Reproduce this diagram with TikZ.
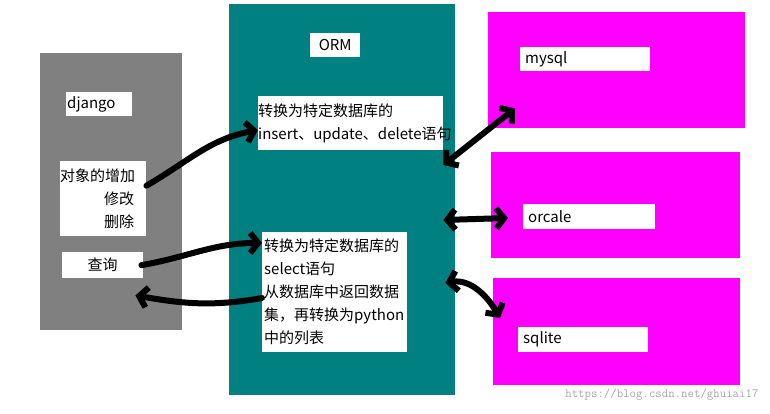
\documentclass[tikz,border=0pt]{standalone}
\usepackage{fontspec}
\setmainfont{Noto Sans CJK SC}
\usetikzlibrary{arrows.meta, positioning}
\definecolor{djgray}{HTML}{808080}
\definecolor{ormteal}{HTML}{008080}
\definecolor{dbpink}{HTML}{FF00FF}
\tikzset{
    panel/.style={rectangle, draw=none, anchor=north west, inner sep=0pt},
    label/.style={rectangle, fill=white, anchor=north west, inner sep=0pt, font=\fontsize{15}{23}\selectfont},
    arrow/.style={line width=6pt, -{Straight Barb[length=8pt, width=20pt]}, line cap=round},
    twoway/.style={line width=6pt, {Straight Barb[length=8pt, width=20pt]}-{Straight Barb[length=8pt, width=20pt]}, line cap=round},
}

\begin{document}
\begin{tikzpicture}[x=1pt, y=-1pt]
    \useasboundingbox (0,0) rectangle (770,414);

    % panels
    \node [panel, fill=djgray, minimum width=142pt, minimum height=277pt] (dj) at (40,53) {};
    \node [panel, fill=ormteal, minimum width=226pt, minimum height=391pt] (orm) at (229,4) {};
    \node [panel, fill=dbpink, minimum width=257pt, minimum height=116pt] (db1) at (488,12) {};
    \node [panel, fill=dbpink, minimum width=249pt, minimum height=106pt] (db2) at (491,152) {};
    \node [panel, fill=dbpink, minimum width=247pt, minimum height=107pt] (db3) at (493,278) {};

    % labels
    \node [label, minimum width=66pt, minimum height=24pt, text width=64pt] (django) at (66,92) {django};
    \node [label, minimum width=86pt, minimum height=75pt, text width=86pt, align=left] (obj) at (60,161) {对象的增加\\\hspace{44pt}修改\\\hspace{44pt}删除};
    \node [label, minimum width=81pt, minimum height=26pt] (query) at (62,252) {查询};
    \node [label, minimum width=50pt, minimum height=24pt] (ormlbl) at (310,33) {ORM};
    \node [label, minimum width=185pt, minimum height=54pt, text width=185pt, align=left] (conv1) at (258,96) {转换为特定数据库的\\insert、update、delete语句};
    \node [label, minimum width=145pt, minimum height=120pt, text width=145pt, align=left] (conv2) at (262,232) {\hspace{2pt}转换为特定数据库的\\\hspace{2pt}select语句\\\hspace{2pt}从数据库中返回数据\\\hspace{2pt}集，再转换为python\\\hspace{2pt}中的列表};
    \node [label, minimum width=130pt, minimum height=24pt, text width=126pt] (mysql) at (520,47) {\hspace{3pt}mysql};
    \node [label, minimum width=132pt, minimum height=25pt, text width=128pt] (orcale) at (523,204) {\hspace{3pt}orcale};
    \node [label, minimum width=130pt, minimum height=25pt, text width=126pt] (sqlite) at (518,327) {\hspace{3pt}sqlite};

    \node [anchor=south east, text=black!35, font=\ttfamily\fontsize{12.5}{14}\selectfont] (mark) at (762,404) {https://blog.csdn.net/ghuiai17};

    % connectors
    \draw [arrow] ([yshift=13pt]obj.east) to[out=30, in=190] ([yshift=-7pt]conv1.west);
    \draw [arrow] ([xshift=-2pt]query.east) to[out=10, in=180] ([yshift=-11pt]conv2.north west);
    \draw [arrow] ([yshift=-66pt]conv2.north west) to[out=190, in=350] ([xshift=-8pt, yshift=-17pt]query.south east);
    \draw [twoway] ([xshift=-12pt, yshift=-161pt]orm.north east) -- ([xshift=27pt, yshift=20pt]db1.south west);
    \draw [twoway] ([xshift=-12pt, yshift=-216pt]orm.north east) -- ([xshift=17pt, yshift=-66pt]db2.north west);
    \draw [twoway] ([xshift=-10pt, yshift=-279pt]orm.north east) to[out=10, in=120] ([xshift=7pt, yshift=-40pt]db3.north west);
\end{tikzpicture}
\end{document}
